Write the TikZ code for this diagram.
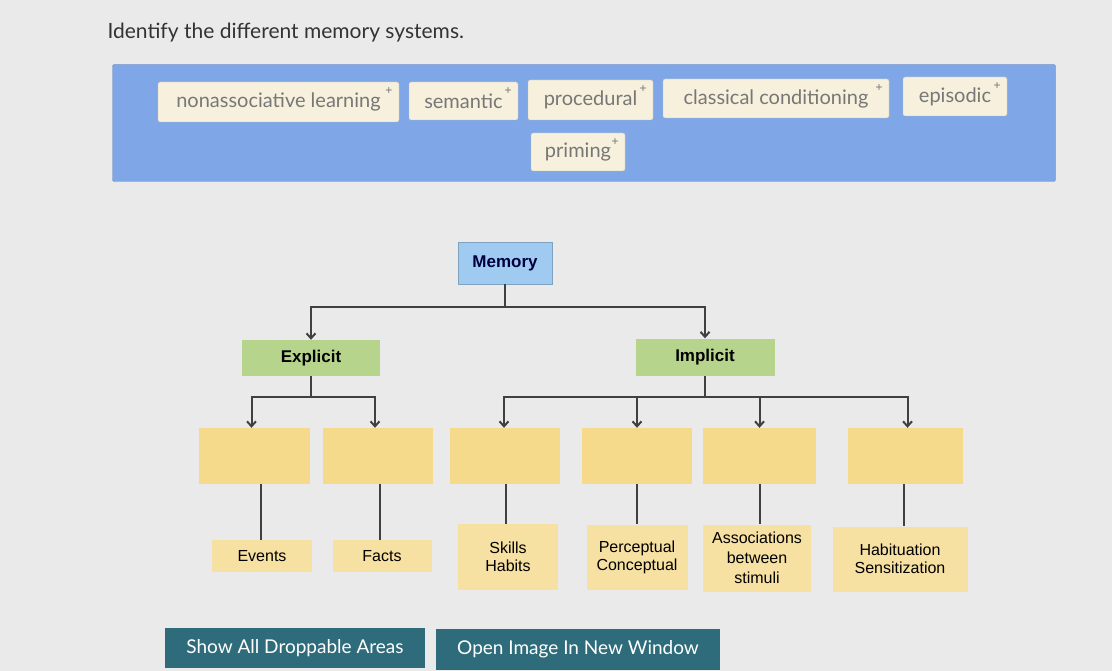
\documentclass[tikz,border=0pt]{standalone}
\usepackage{fontspec}
\setmainfont{Liberation Sans}
\newfontfamily\ui{Lato}
\usetikzlibrary{arrows.meta}
\definecolor{bg}{HTML}{EAEAEA}
\definecolor{bluebox}{HTML}{7FA6E6}
\definecolor{chip}{HTML}{F6F0DC}
\definecolor{chiptext}{HTML}{777777}
\definecolor{mem}{HTML}{9FCBF0}
\definecolor{grn}{HTML}{B7D48C}
\definecolor{yel}{HTML}{F4DA8A}
\definecolor{leaf}{HTML}{F6E0A2}
\definecolor{btn}{HTML}{2F6C7B}
\begin{document}
\begin{tikzpicture}[x=1pt,y=-1pt,
  chipn/.style={draw=gray!50,fill=chip,rounded corners=2pt,inner sep=0pt,font=\ui\fontsize{20}{20}\selectfont,text=chiptext},
  box/.style={fill=#1,inner sep=0pt,font=\fontsize{16}{18}\selectfont,align=center},
  conn/.style={draw=black!75,line width=2pt},
  arr/.style={conn,-{Straight Barb[length=5pt,width=9pt]}},
  plus/.style={font=\fontsize{12}{12}\selectfont,text=chiptext},
  button/.style={fill=btn,text=white,inner sep=0pt,font=\ui\fontsize{19}{19}\selectfont}]
\fill[bg] (0,0) rectangle (1112,671);
\useasboundingbox (0,0) rectangle (1112,671);
\node[anchor=west,font=\ui\fontsize{21}{21}\selectfont,text=black!80] (title) at (104,33) {Identify the different memory systems.};
\node[fill=bluebox,draw=bluebox!80!black,rounded corners=2pt,minimum width=943pt,minimum height=117pt,inner sep=0pt] (pool) at (584,123) {};
\foreach \n/\t/\xa/\ya/\xb/\yb in {c1/nonassociative learning/158/82/399/122, c2/semantic/409/82/518/120, c3/procedural/528/80/653/120, c4/classical conditioning/663/79/889/118, c5/episodic/903/77/1007/116, c6/priming/531/133/625/171}{
  \node[chipn,minimum width=\xb-\xa,minimum height=\yb-\ya] (\n) at ({(\xa+\xb)/2},{(\ya+\yb)/2}) {\t\hspace{10pt}};
  \node[plus] at (\xb-10,\ya+9) {+};
}
\node[box=mem,draw=mem!80!black,minimum width=94pt,minimum height=42pt,font=\bfseries\fontsize{17}{18}\selectfont,text=blue!25!black] (memory) at (505,263) {Memory};
\node[box=grn,minimum width=138pt,minimum height=36pt,font=\bfseries\fontsize{17}{18}\selectfont] (explicit) at (311,358) {Explicit};
\node[box=grn,minimum width=139pt,minimum height=37pt,font=\bfseries\fontsize{17}{18}\selectfont] (implicit) at (705,357) {Implicit};
\foreach \n/\xa/\xb in {b1/199/310, b2/323/433, b3/450/560, b4/582/692, b5/703/816, b6/848/963}
  \node[box=yel,minimum width=\xb-\xa,minimum height=56pt] (\n) at ({(\xa+\xb)/2},456) {};
\node[box=leaf,minimum width=100pt,minimum height=32pt] (events) at (262,556) {Events};
\node[box=leaf,minimum width=99pt,minimum height=32pt] (facts) at (382,556) {Facts};
\node[box=leaf,minimum width=100pt,minimum height=66pt] (skills) at (508,557) {Skills\\Habits};
\node[box=leaf,minimum width=101pt,minimum height=65pt] (perc) at (637,557) {Perceptual\\Conceptual};
\node[box=leaf,minimum width=108pt,minimum height=67pt,font=\fontsize{16}{20}\selectfont] (assoc) at (757,558) {Associations\\between\\stimuli};
\node[box=leaf,minimum width=135pt,minimum height=65pt] (habit) at (900,559) {Habituation\\Sensitization};
% connectors
\coordinate (m1) at (505,307);
\draw[conn] (memory.south) -- (m1);
\draw[arr] (m1) -| (explicit.north);
\draw[arr] (m1) -| (implicit.north);
\coordinate (e1) at (311,397);
\draw[conn] (explicit.south) -- (e1);
\draw[arr] (e1) -| ([xshift=-3pt]b1.north);
\draw[arr] (e1) -| ([xshift=-3pt]b2.north);
\coordinate (i1) at (705,397);
\draw[conn] (implicit.south) -- (i1);
\draw[arr] (i1) -| ([xshift=-1pt]b3.north);
\draw[arr] (i1) -| (b4.north);
\draw[arr] (i1) -| ([xshift=0pt]b5.north);
\draw[arr] (i1) -| ([xshift=2pt]b6.north);
\draw[conn] ([xshift=6pt]b1.south) -- ([xshift=6pt]b1.south |- events.north);
\draw[conn] ([xshift=2pt]b2.south) -- ([xshift=2pt]b2.south |- facts.north);
\draw[conn] ([xshift=1pt]b3.south) -- ([xshift=1pt]b3.south |- skills.north);
\draw[conn] (b4.south) -- (b4.south |- perc.north);
\draw[conn] (b5.south) -- (b5.south |- assoc.north);
\draw[conn] ([xshift=-2pt]b6.south) -- ([xshift=-2pt]b6.south |- habit.north);
\node[button,minimum width=260pt,minimum height=40pt] (show) at (295,648) {Show All Droppable Areas};
\node[button,minimum width=284pt,minimum height=41pt] (open) at (578,649) {Open Image In New Window};
\end{tikzpicture}
\end{document}
